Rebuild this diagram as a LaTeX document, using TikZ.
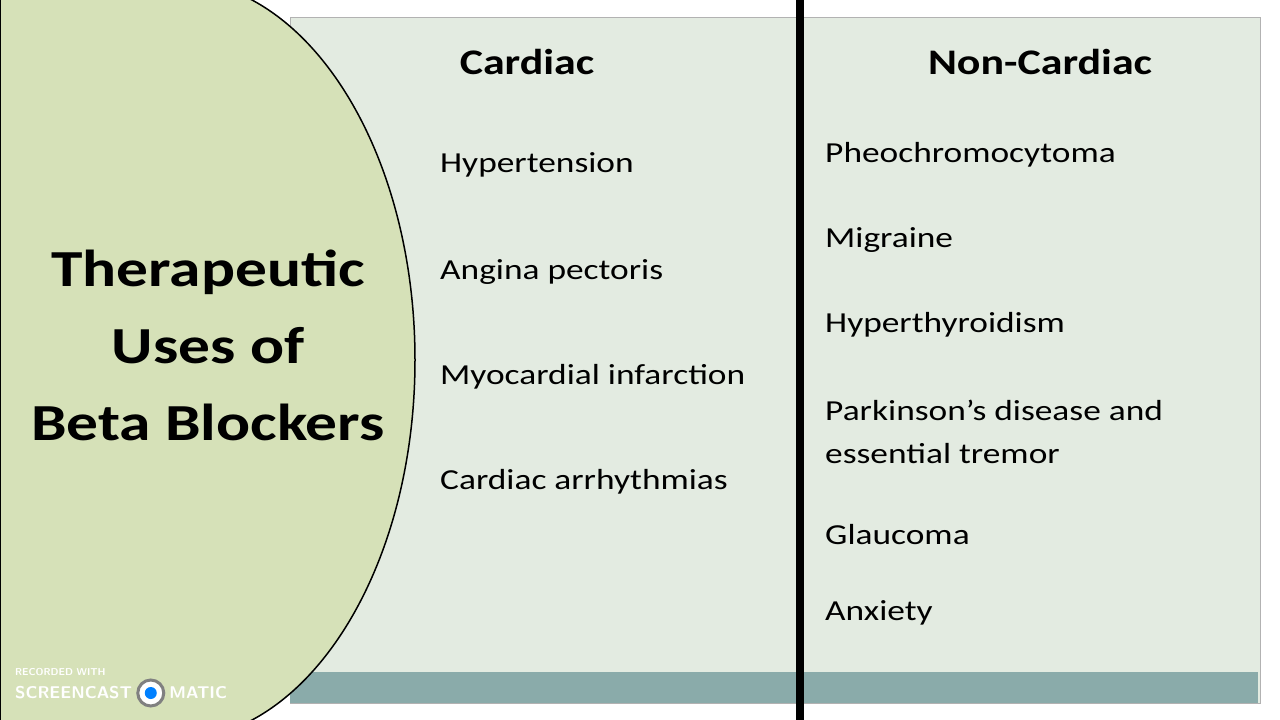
\documentclass[tikz,border=0pt]{standalone}
\usepackage{fontspec}
\setmainfont{Carlito}
\usetikzlibrary{positioning}
\definecolor{panel}{HTML}{E3EBE1}
\definecolor{bar}{HTML}{8AABAA}
\definecolor{lobe}{HTML}{D6E1B8}
\newcommand{\wide}[1]{\scalebox{1.22}[1]{#1}}
\begin{document}
\begin{tikzpicture}[x=1pt,y=-1pt]
  \tikzstyle{item}=[anchor=west,inner sep=0pt,font=\fontsize{29}{43}\selectfont]
  \tikzstyle{head}=[inner sep=0pt,font=\fontsize{36}{44}\selectfont\bfseries]
  \useasboundingbox (0,0) rectangle (1280,720);
  \fill [white] (0,0) rectangle (1280,720);
  % panel and bar
  \draw [fill=panel,draw=gray!60] (290,17) rectangle (1260,703);
  \fill [bar] (290,672) rectangle (1258,703);
  % left lobe
  \begin{scope}
    \clip (0,0) rectangle (1280,720);
    \draw [fill=lobe,line width=1.5pt] (175,360) ellipse (240 and 380);
    \fill [lobe] (-70,-30) rectangle (175,750);
  \end{scope}
  \draw [line width=1.5pt] (0.5,0) -- (0.5,720);
  \node [align=center,inner sep=0pt,font=\fontsize{52}{77}\selectfont\bfseries] (title) at (208,345) {\wide{Therapeutic}\\\wide{Uses of}\\\wide{Beta Blockers}};
  % divider
  \draw [line width=8pt] (800,0) -- (800,720);
  \node [head] (card) at (527,62) {\wide{Cardiac}};
  \node [head] (noncard) at (1040,62) {\wide{Non-Cardiac}};
  \node [item] (c1) at (440,165) {\wide{Hypertension}};
  \node [item] (c2) at (440,272) {\wide{Angina pectoris}};
  \node [item] (c3) at (440,377) {\wide{Myocardial infarction}};
  \node [item] (c4) at (440,482) {\wide{Cardiac arrhythmias}};
  \node [item] (n1) at (825,155) {\wide{Pheochromocytoma}};
  \node [item] (n2) at (825,240) {\wide{Migraine}};
  \node [item] (n3) at (825,325) {\wide{Hyperthyroidism}};
  \node [item,align=left] (n4) at (825,432) {\wide{Parkinson’s disease and}\\\wide{essential tremor}};
  \node [item] (n5) at (825,535) {\wide{Glaucoma}};
  \node [item] (n6) at (825,613) {\wide{Anxiety}};
  % watermark
  \node [anchor=west,inner sep=0pt,white,font=\fontsize{10}{12}\selectfont\bfseries\sffamily] (rec) at (15,672) {RECORDED WITH};
  \node [anchor=west,inner sep=0pt,white,font=\fontsize{17}{20}\selectfont\bfseries\sffamily] (sc) at (15,693) {SCREENCAST};
  \node [circle,draw=gray,line width=3pt,fill=white,minimum size=26pt,inner sep=0pt,right=4pt of sc] (logo) {};
  \fill [blue!50!cyan] (logo) circle (6);
  \node [anchor=west,inner sep=0pt,white,font=\fontsize{17}{20}\selectfont\bfseries\sffamily,right=4pt of logo] (matic) {MATIC};
\end{tikzpicture}
\end{document}
